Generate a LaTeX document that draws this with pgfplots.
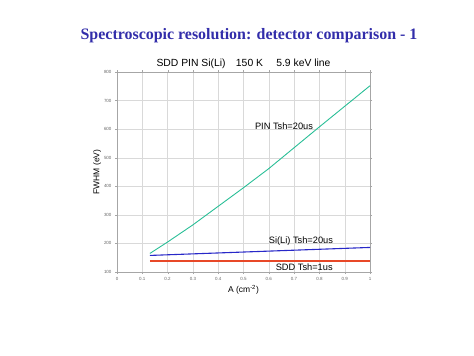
\documentclass[border=0pt]{standalone}
\usepackage{fontspec}
\setmainfont{Liberation Sans}
\newfontfamily\titlefont{Liberation Serif}
\usepackage{pgfplots}
\pgfplotsset{compat=1.18}
\definecolor{titleblue}{RGB}{50,45,170}
\begin{document}
\begin{tikzpicture}[x=1bp,y=1bp]
\useasboundingbox (-117,-83) rectangle (357,272);
\node[font=\titlefont\bfseries\fontsize{16}{18}\selectfont, text=titleblue] at (132,236) {Spectroscopic resolution: detector comparison - 1};
\begin{axis}[
  at={(0,0)}, anchor=south west,
  scale only axis, width=253bp, height=200bp,
  xmin=0, xmax=1, ymin=100, ymax=800,
  xtick={0,0.1,...,1.0}, ytick={100,200,...,800},
  xticklabels={0,0.1,0.2,0.3,0.4,0.5,0.6,0.7,0.8,0.9,1},
  grid=major, major grid style={gray!30, line width=0.4pt},
  axis line style={gray!70, line width=0.4pt},
  tick style={gray!70}, tick align=outside, major tick length=2bp,
  ticklabel style={font=\fontsize{4.5}{5}\selectfont, text=gray!80!black},
  /pgf/number format/assume math mode=true,
  title={SDD PIN Si(Li)\quad 150 K\quad\ 5.9 keV line},
  title style={font=\fontsize{10.4}{12}\selectfont, yshift=-6bp},
  xlabel={A (cm\textsuperscript{-2})},
  ylabel={FWHM (eV)},
  label style={font=\fontsize{8.5}{10}\selectfont},
  xlabel style={yshift=2bp},
  ylabel style={yshift=-4bp},
  clip=false,
]
\addplot[draw={rgb,255:red,40;green,190;blue,150}, line width=0.9pt] coordinates {
(0.13,165) (0.2,205) (0.3,265) (0.4,330) (0.5,395) (0.6,462) (0.7,535) (0.8,608) (0.9,680) (1.0,752)};
\addplot[draw={rgb,255:red,40;green,40;blue,200}, line width=1.1pt] coordinates {(0.13,158) (1.0,186)};
\addplot[draw={rgb,255:red,232;green,72;blue,40}, line width=1.1pt] coordinates {(0.13,138.5) (1.0,138.5)};
\node[font=\fontsize{9.3}{11}\selectfont] at (axis cs:0.66,612) {PIN Tsh=20us};
\node[font=\fontsize{9.3}{11}\selectfont] at (axis cs:0.727,208) {Si(Li) Tsh=20us};
\node[font=\fontsize{9.3}{11}\selectfont] at (axis cs:0.74,116) {SDD Tsh=1us};
\end{axis}
\end{tikzpicture}
\end{document}
